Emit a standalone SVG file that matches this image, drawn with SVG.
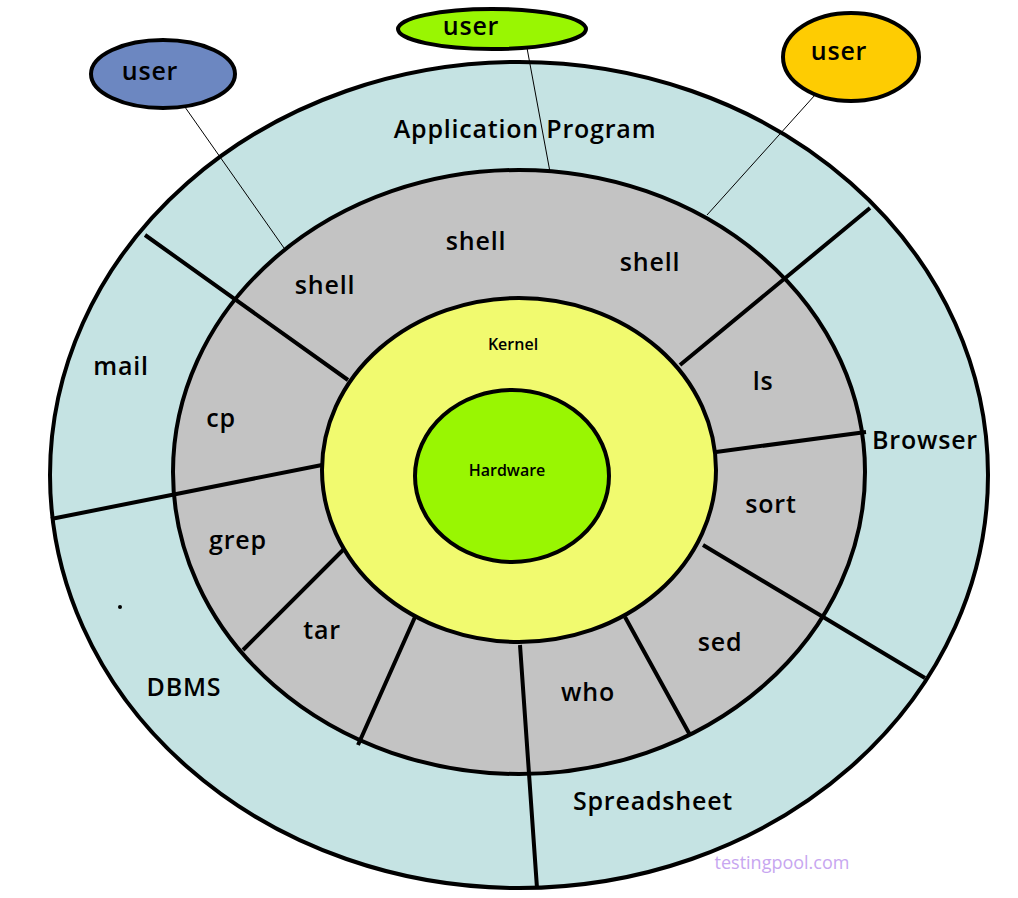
<svg xmlns="http://www.w3.org/2000/svg" width="1018" height="898" viewBox="0 0 1018 898">
<style>
.ring{stroke:#000;stroke-width:4}
.div{stroke:#000;stroke-width:4;fill:none}
.thin{stroke:#000;stroke-width:1;fill:none}
.t{font-family:"Open Sans","Liberation Sans",sans-serif;font-weight:600;font-size:25px;letter-spacing:0.8px;fill:#000;text-anchor:middle}
.s{font-family:"Open Sans","Liberation Sans",sans-serif;font-weight:600;font-size:16px;fill:#000;text-anchor:middle}
</style>
<rect width="1018" height="898" fill="#fff"/>
<g id="outer"><ellipse class="ring" cx="519" cy="475" rx="469" ry="413" fill="#c5e3e3"/></g>
<g id="shellring"><ellipse class="ring" cx="519" cy="472" rx="346" ry="302" fill="#c3c3c3"/></g>
<g id="connectors">
<path class="div" d="M145,235L348,380M870,208L680,365M51,519L322,465M866,432L716,452M925,678L703,545M243,650L345,548M358,745L415,617M520,645L537,888M625,617L690,735"/>
<path class="thin" d="M180,100L284,248M527,48L550,172M815,95L707,215"/>
</g>
<g id="kernel"><ellipse class="ring" cx="519" cy="470" rx="197" ry="172" fill="#f1fa6f"/><text class="s" x="513" y="350">Kernel</text></g>
<g id="hardware"><ellipse class="ring" cx="512" cy="476" rx="97" ry="86" fill="#99f602"/><text class="s" x="507" y="476">Hardware</text></g>
<g id="user1"><ellipse class="ring" cx="163" cy="74" rx="72" ry="34" fill="#6c87c1"/><text class="t" x="150" y="80">user</text></g>
<g id="user2"><ellipse class="ring" cx="492" cy="29" rx="94" ry="20" fill="#99f602"/><text class="t" x="471" y="35">user</text></g>
<g id="user3"><ellipse class="ring" cx="851" cy="57" rx="68" ry="44" fill="#fecc02"/><text class="t" x="839" y="60">user</text></g>
<g id="labels">
<text class="t" x="525" y="138">Application Program</text>
<text class="t" x="476" y="250">shell</text>
<text class="t" x="650" y="271">shell</text>
<text class="t" x="325" y="294">shell</text>
<text class="t" x="121" y="375">mail</text>
<text class="t" x="221" y="427">cp</text>
<text class="t" x="763" y="390">ls</text>
<text class="t" x="925" y="449">Browser</text>
<text class="t" x="771" y="513">sort</text>
<text class="t" x="238" y="549">grep</text>
<text class="t" x="322" y="639">tar</text>
<text class="t" x="720" y="651">sed</text>
<text class="t" x="184" y="696">DBMS</text>
<text class="t" x="588" y="701">who</text>
<text class="t" x="653" y="810">Spreadsheet</text>
<circle cx="120" cy="607" r="2" fill="#000"/>
<text x="782" y="869" style="font-family:'Open Sans','Liberation Sans',sans-serif;font-size:18px;fill:#c7a6f0;text-anchor:middle">testingpool.com</text>
</g>
</svg>
